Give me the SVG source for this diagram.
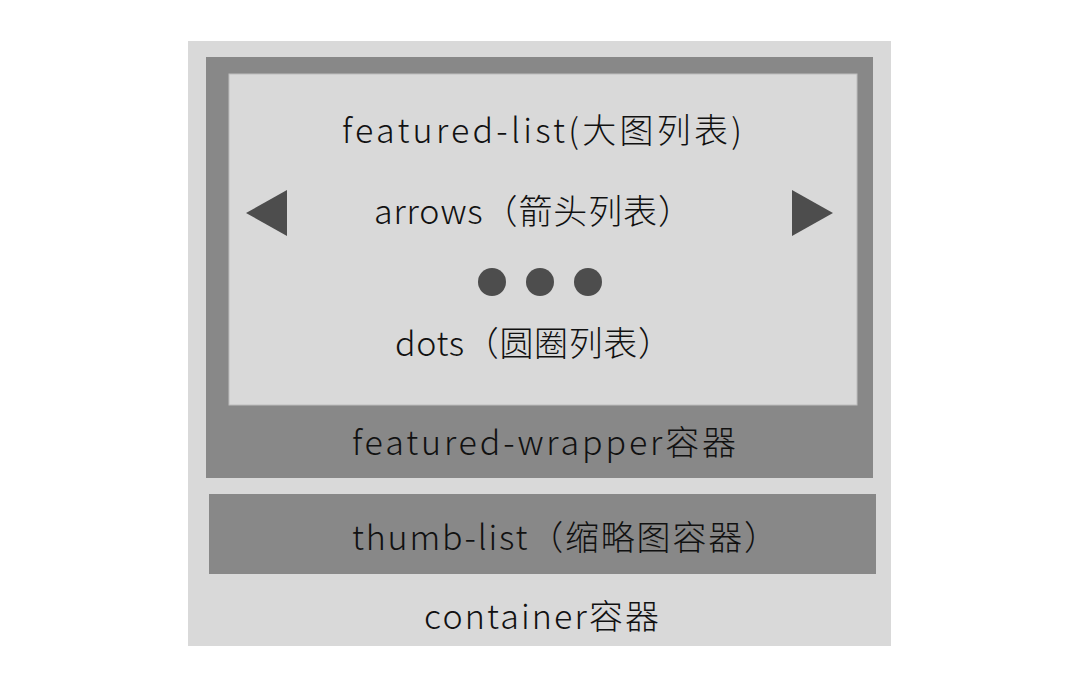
<svg xmlns="http://www.w3.org/2000/svg" width="1080" height="688" viewBox="0 0 1080 688">
<style>
.t{font-family:"Noto Sans CJK SC","Noto Sans",sans-serif;font-size:34px;font-weight:300;fill:#111;text-anchor:middle}
.light{fill:#d9d9d9}
.dark{fill:#888888}
.mark{fill:#4d4d4d}
</style>
<rect width="1080" height="688" fill="#ffffff"/>
<g id="container">
<rect class="light" x="188" y="41" width="703" height="605"/>
<text class="t" x="541.5" y="629" textLength="235" lengthAdjust="spacing">container容器</text>
</g>
<g id="featured-wrapper">
<rect class="dark" x="206" y="57" width="667" height="421"/>
<text class="t" x="544" y="455" textLength="384" lengthAdjust="spacing">featured-wrapper容器</text>
</g>
<g id="featured-list">
<rect class="light" x="229" y="74" width="628" height="331" stroke="#bdbdbd" stroke-width="1"/>
<text class="t" x="542" y="143" textLength="400" lengthAdjust="spacing">featured-list(大图列表)</text>
</g>
<g id="arrows">
<polygon class="mark" points="246,213 287,190 287,236"/>
<polygon class="mark" points="833,213 792,190 792,236"/>
<text class="t" x="533" y="224" textLength="318" lengthAdjust="spacing">arrows（箭头列表）</text>
</g>
<g id="dots">
<circle class="mark" cx="492" cy="282" r="14"/>
<circle class="mark" cx="540" cy="282" r="14"/>
<circle class="mark" cx="588" cy="282" r="14"/>
<text class="t" x="533.5" y="356" textLength="277" lengthAdjust="spacing">dots（圆圈列表）</text>
</g>
<g id="thumb-list">
<rect class="dark" x="209" y="494" width="667" height="80"/>
<text class="t" x="565" y="550" textLength="426" lengthAdjust="spacing">thumb-list（缩略图容器）</text>
</g>
<g id="connectors"></g>
</svg>
